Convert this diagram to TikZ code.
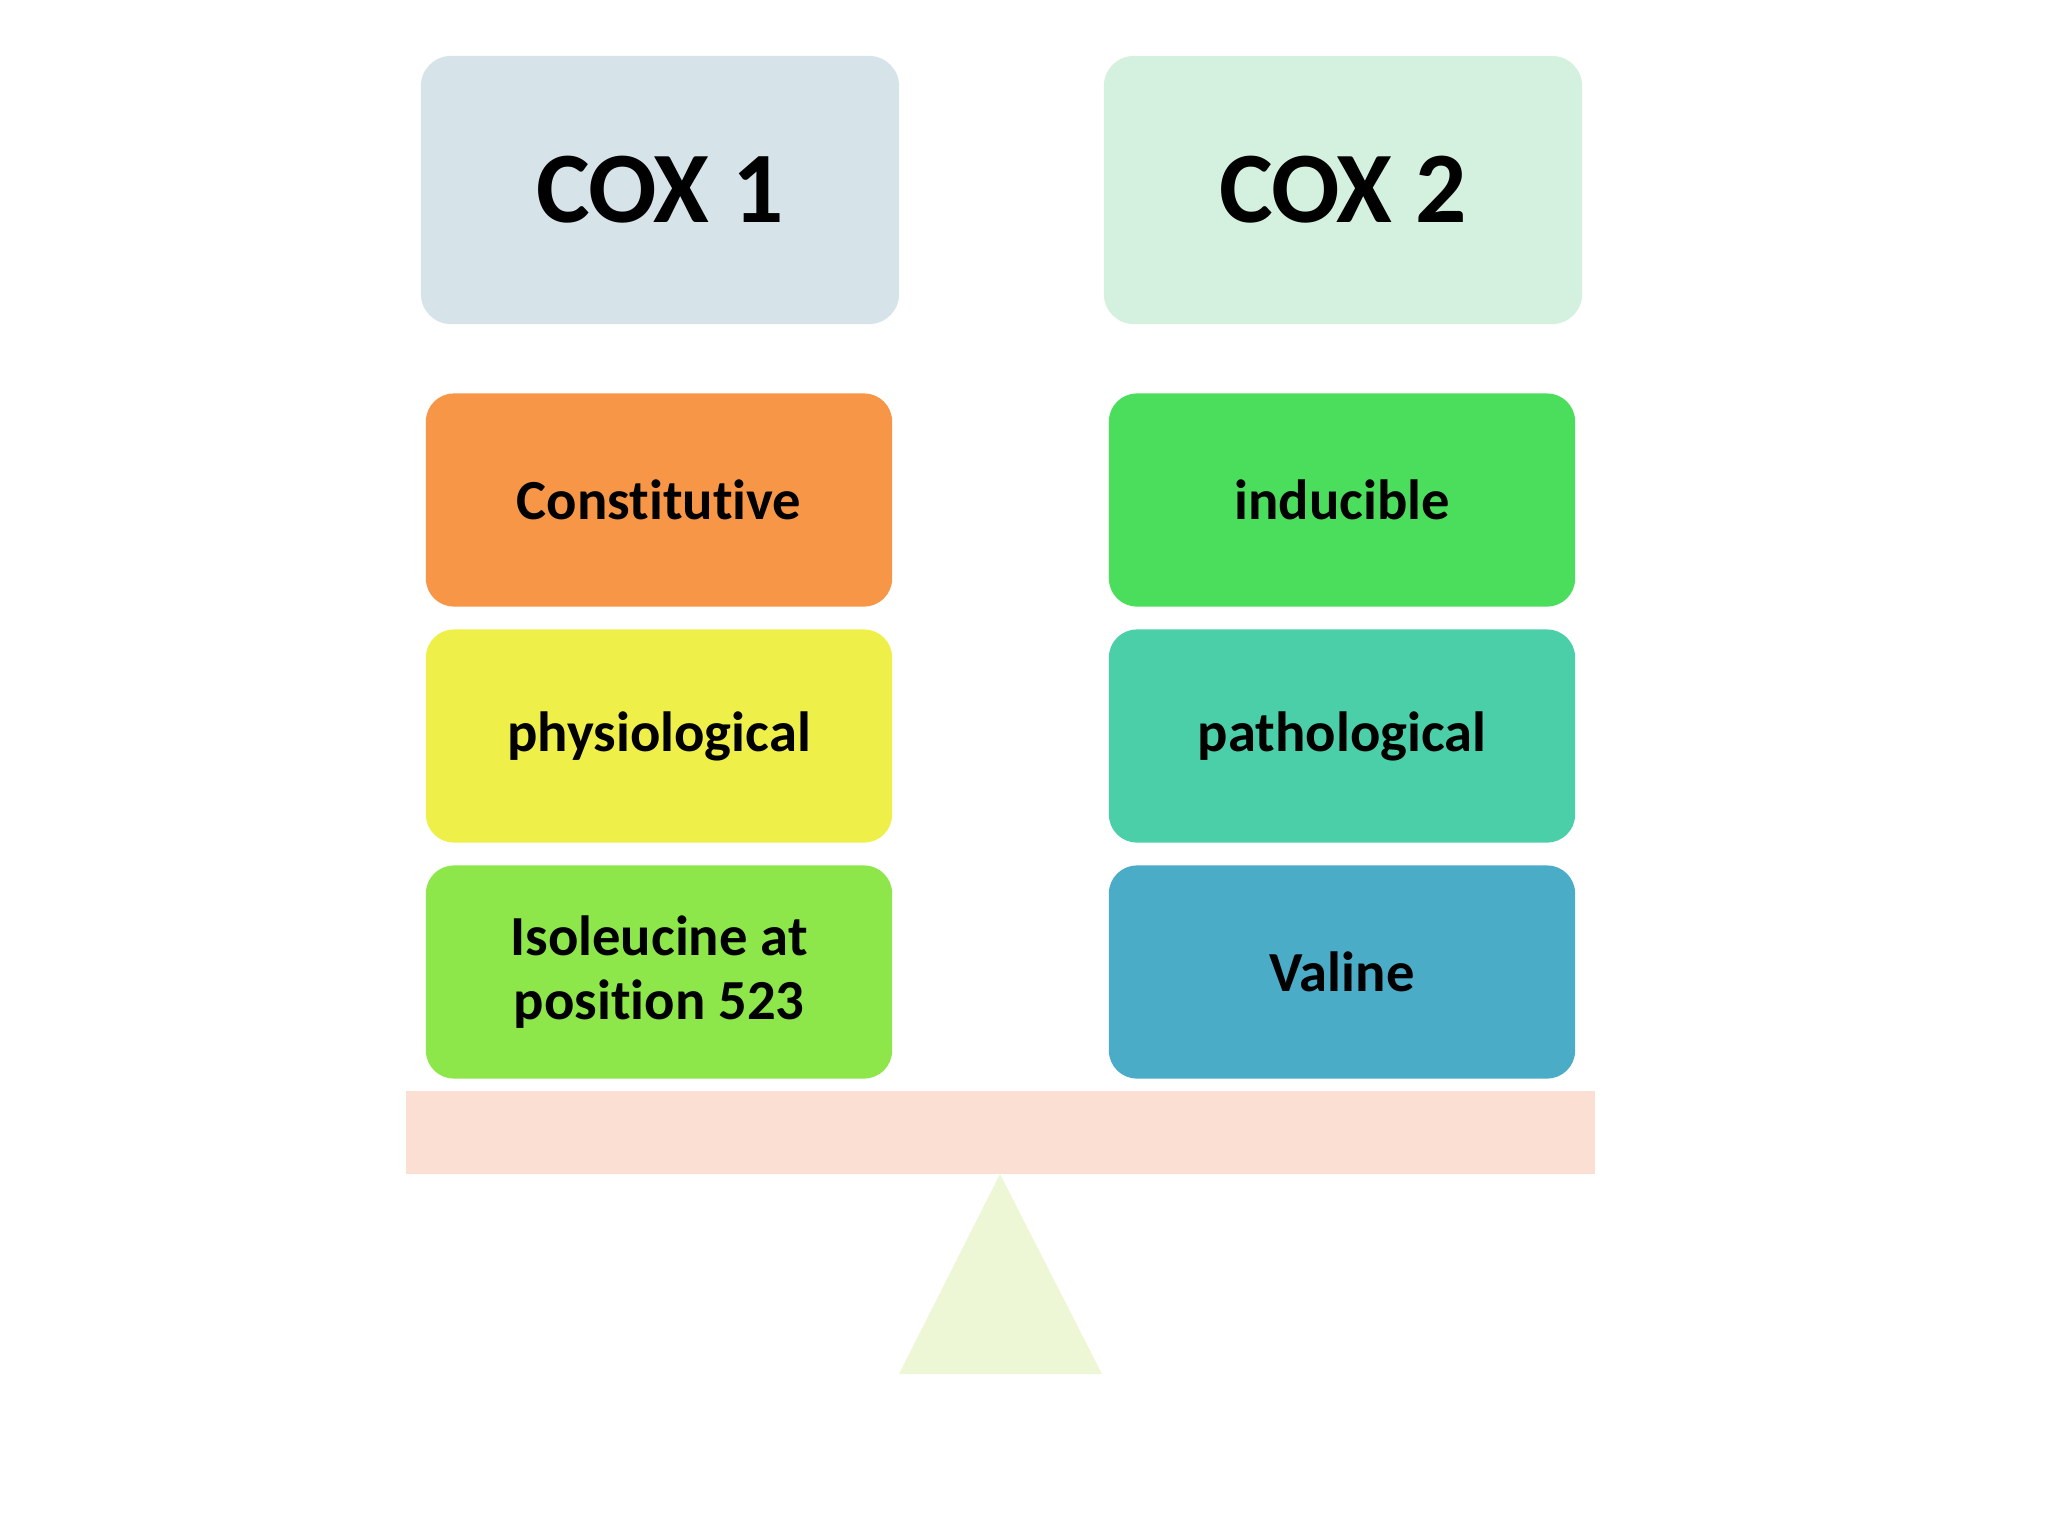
\documentclass[tikz,border=0pt]{standalone}
\usepackage{fontspec}
\setmainfont[RawFeature={-liga}]{Carlito}
\usepackage{tikz}
\usetikzlibrary{positioning,calc}

\definecolor{coxblue}{HTML}{D6E4EA}
\definecolor{coxgreen}{HTML}{D4F1DF}
\definecolor{orangebox}{HTML}{F79646}
\definecolor{yellowbox}{HTML}{EFEF4A}
\definecolor{limebox}{HTML}{8DE64A}
\definecolor{greenbox}{HTML}{4BDD5C}
\definecolor{tealbox}{HTML}{4BCFA8}
\definecolor{bluebox}{HTML}{4BACC8}
\definecolor{beamcol}{HTML}{FBDFD3}
\definecolor{pivotcol}{HTML}{EDF7D5}

\tikzset{
    header/.style={rounded corners=0.3cm, minimum width=4.78cm, minimum height=2.68cm,
        font=\fontsize{28.8}{34}\selectfont\bfseries, align=center},
    item/.style={rounded corners=0.28cm, minimum width=4.66cm, minimum height=2.13cm,
        font=\fontsize{16.1}{18}\selectfont\bfseries, align=center}
}

\begin{document}
\begin{tikzpicture}[x=0.01cm, y=-0.01cm]
    \useasboundingbox (0,0) rectangle (2048,1536);

    % Encabezados
    \node[header, fill=coxblue] (cox1) at (660,190) {COX 1};
    \node[header, fill=coxgreen] (cox2) at (1343,190) {COX 2};

    % Columna izquierda
    \node[item, fill=orangebox] (const) at (659,500) {Constitutive};
    \node[item, fill=yellowbox] (physio) at (659,736) {physiological};
    \node[item, fill=limebox] (ile) at (659,972) {Isoleucine at\\position 523};

    % Columna derecha
    \node[item, fill=greenbox] (induc) at (1342,500) {inducible};
    \node[item, fill=tealbox] (patho) at (1342,736) {pathological};
    \node[item, fill=bluebox] (val) at (1342,972) {Valine};

    % Balanza
    \fill[beamcol] (406,1091) rectangle (1595,1174);
    \fill[pivotcol] (1000,1174) -- (1102,1374) -- (899,1374) -- cycle;
\end{tikzpicture}
\end{document}
